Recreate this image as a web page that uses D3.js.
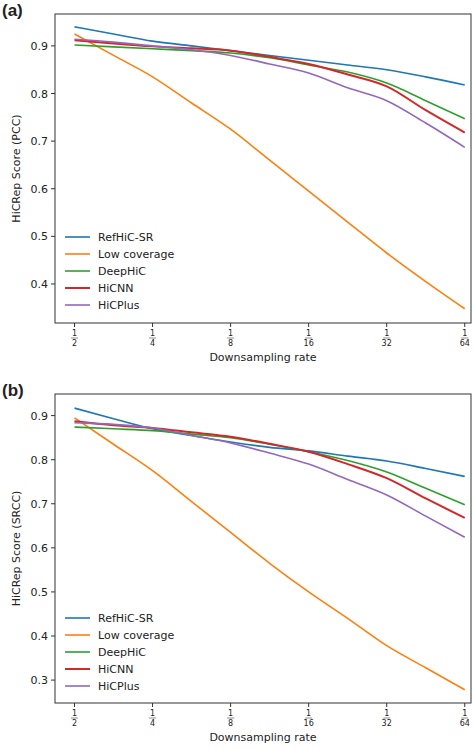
<!DOCTYPE html>
<html><head><meta charset="utf-8">
<script src="https://cdn.jsdelivr.net/npm/d3@7"></script>
<style>body{margin:0;background:#fff}text{font-family:"DejaVu Sans",sans-serif;fill:#222}</style>
</head><body><svg id="chart" width="474" height="749"></svg>
<script>
// x positions: index 0..10 = 1/2 ... 1/64 with half steps
var xSteps = [0, 0.5, 1, 1.5, 2, 2.5, 3, 3.5, 4, 4.5, 5];
var tickDenoms = ["2", "4", "8", "16", "32", "64"];
var seriesNames = ["RefHiC-SR", "Low coverage", "DeepHiC", "HiCNN", "HiCPlus"];
var colors = ["#1f77b4", "#ff7f0e", "#2ca02c", "#d62728", "#9467bd"];

var pccRefHiC = [0.94, 0.925, 0.91, 0.90, 0.89, 0.88, 0.87, 0.86, 0.85, 0.835, 0.818];
var pccLow = [0.925, 0.88, 0.835, 0.78, 0.725, 0.66, 0.595, 0.53, 0.465, 0.405, 0.348];
var pccDeepHiC = [0.902, 0.898, 0.894, 0.89, 0.885, 0.875, 0.86, 0.845, 0.822, 0.785, 0.747];
var pccHiCNN = [0.912, 0.905, 0.899, 0.895, 0.89, 0.877, 0.862, 0.84, 0.815, 0.765, 0.718];
var pccHiCPlus = [0.914, 0.908, 0.9, 0.892, 0.88, 0.862, 0.843, 0.812, 0.785, 0.738, 0.687];

var srccRefHiC = [0.917, 0.893, 0.870, 0.855, 0.84, 0.828, 0.82, 0.808, 0.797, 0.78, 0.762];
var srccLow = [0.895, 0.835, 0.775, 0.705, 0.635, 0.565, 0.5, 0.44, 0.378, 0.328, 0.278];
var srccDeepHiC = [0.874, 0.87, 0.866, 0.858, 0.85, 0.835, 0.818, 0.798, 0.772, 0.735, 0.698];
var srccHiCNN = [0.887, 0.878, 0.872, 0.862, 0.852, 0.836, 0.818, 0.79, 0.758, 0.712, 0.668];
var srccHiCPlus = [0.884, 0.88, 0.872, 0.855, 0.838, 0.815, 0.79, 0.755, 0.72, 0.672, 0.624];

var pccTicks = [0.4, 0.5, 0.6, 0.7, 0.8, 0.9];
var srccTicks = [0.3, 0.4, 0.5, 0.6, 0.7, 0.8, 0.9];

var svg = d3.select("#chart");

function drawPanel(opts) {
  var g = svg.append("g");
  var x = d3.scaleLinear().domain([-0.25, 5.08]).range([55, 471]);
  var y = d3.scaleLinear().domain(opts.domain).range([opts.bottom, opts.top]);

  g.append("text").attr("x", 2).attr("y", opts.top + 2)
    .style("font-family", "Liberation Sans, Arial").style("font-size", "17px").style("font-weight", "bold")
    .text(opts.label);

  g.append("rect").attr("x", 55).attr("y", opts.top).attr("width", 416).attr("height", opts.bottom - opts.top)
    .attr("fill", "none").attr("stroke", "#333").attr("stroke-width", 1);

  // y axis
  opts.ticks.forEach(function (t) {
    g.append("line").attr("x1", 51).attr("x2", 55).attr("y1", y(t)).attr("y2", y(t)).attr("stroke", "#333");
    g.append("text").attr("x", 48).attr("y", y(t) + 4).attr("text-anchor", "end")
      .style("font-size", "11px").text(t.toFixed(1));
  });
  g.append("text").attr("transform", "translate(20," + ((opts.top + opts.bottom) / 2) + ") rotate(-90)")
    .attr("text-anchor", "middle").style("font-size", "11px").text(opts.yTitle);

  // x axis with fraction labels
  tickDenoms.forEach(function (d, i) {
    var xp = x(i);
    g.append("line").attr("x1", xp).attr("x2", xp).attr("y1", opts.bottom).attr("y2", opts.bottom + 4).attr("stroke", "#333");
    g.append("text").attr("x", xp).attr("y", opts.bottom + 13).attr("text-anchor", "middle").style("font-size", "8px").text("1");
    g.append("line").attr("x1", xp - 3.5).attr("x2", xp + 3.5).attr("y1", opts.bottom + 15).attr("y2", opts.bottom + 15).attr("stroke", "#444").attr("stroke-width", 0.6);
    g.append("text").attr("x", xp).attr("y", opts.bottom + 23).attr("text-anchor", "middle").style("font-size", "8px").text(d);
  });
  g.append("text").attr("x", 263).attr("y", opts.bottom + 38).attr("text-anchor", "middle")
    .style("font-size", "11px").text("Downsampling rate");

  var line = d3.line().curve(d3.curveMonotoneX)
    .x(function (d, i) { return x(xSteps[i]); }).y(function (d) { return y(d); });
  opts.series.forEach(function (s, i) {
    g.append("path").datum(s).attr("d", line).attr("fill", "none")
      .attr("stroke", colors[i]).attr("stroke-width", i === 3 ? 2 : 1.6);
  });

  // legend
  seriesNames.forEach(function (n, i) {
    var ly = opts.legendTop + i * 17;
    g.append("line").attr("x1", 65).attr("x2", 90).attr("y1", ly).attr("y2", ly)
      .attr("stroke", colors[i]).attr("stroke-width", i === 3 ? 2 : 1.6);
    g.append("text").attr("x", 98).attr("y", ly + 4).style("font-size", "11px").text(n);
  });
}

drawPanel({
  label: "(a)", top: 14, bottom: 323, domain: [0.318, 0.967], ticks: pccTicks,
  yTitle: "HiCRep Score (PCC)", legendTop: 237,
  series: [pccRefHiC, pccLow, pccDeepHiC, pccHiCNN, pccHiCPlus]
});
drawPanel({
  label: "(b)", top: 394, bottom: 703, domain: [0.248, 0.949], ticks: srccTicks,
  yTitle: "HiCRep Score (SRCC)", legendTop: 618,
  series: [srccRefHiC, srccLow, srccDeepHiC, srccHiCNN, srccHiCPlus]
});
</script></body></html>
